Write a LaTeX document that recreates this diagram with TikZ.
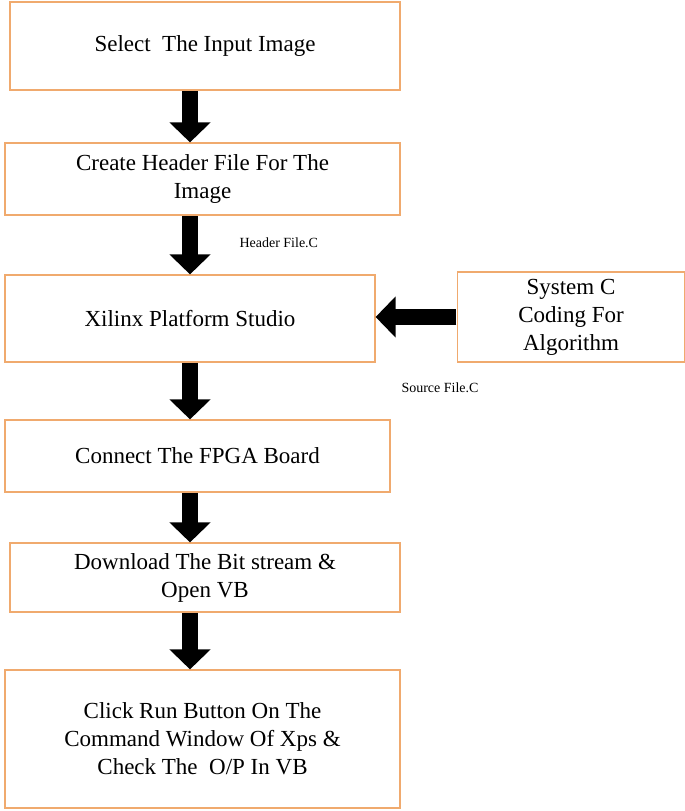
\documentclass[tikz,border=0pt]{standalone}
\usepackage{fontspec}
\setmainfont{Liberation Serif}
\usetikzlibrary{arrows.meta}
\definecolor{boxorange}{RGB}{240,170,110}
\begin{document}
\begin{tikzpicture}[x=1pt,y=-1pt,
  box/.style={draw=boxorange,line width=1.2pt,inner sep=0pt,align=center,font=\fontsize{23}{28}\selectfont},
  blk/.style={line width=16pt,-{Triangle[width=40pt,length=20pt]},shorten <=0.6pt},
  lbl/.style={font=\fontsize{14}{16}\selectfont}]
\useasboundingbox (0,0) rectangle (685,811);
\node[box,minimum width=390pt,minimum height=88pt] (b1) at (205,46) {Select\ \ The Input Image};
\node[box,minimum width=395pt,minimum height=72pt] (b2) at (202.5,179) {Create Header File For The\\Image};
\node[box,minimum width=370pt,minimum height=87pt] (b3) at (190,318.5) {Xilinx Platform Studio};
\node[box,minimum width=227pt,minimum height=90pt] (b4) at (571,317) {System C\\Coding For\\Algorithm};
\node[box,minimum width=385pt,minimum height=72pt] (b5) at (197.5,456) {Connect The FPGA Board};
\node[box,minimum width=390pt,minimum height=69pt] (b6) at (205,577.5) {Download The Bit stream \&\\Open VB};
\node[box,minimum width=395pt,minimum height=138pt] (b7) at (202.5,739) {Click Run Button On The\\Command Window Of Xps \&\\Check The\ \ O/P In VB};
\coordinate (ax) at (190,0);
\draw[blk] (b1.south -| ax) -- (b2.north -| ax);
\draw[blk] (b2.south -| ax) -- (b3.north -| ax);
\draw[blk] (b3.south -| ax) -- (b5.north -| ax);
\draw[blk] (b5.south -| ax) -- (b6.north -| ax);
\draw[blk] (b6.south -| ax) -- (b7.north -| ax);
\draw[blk] (b4.west) -- (b4.west -| b3.east);
\node[lbl,anchor=west] (l1) at (236,243) {Header File.C};
\node[lbl,anchor=west] (l2) at (398,388) {Source File.C};
\end{tikzpicture}
\end{document}
